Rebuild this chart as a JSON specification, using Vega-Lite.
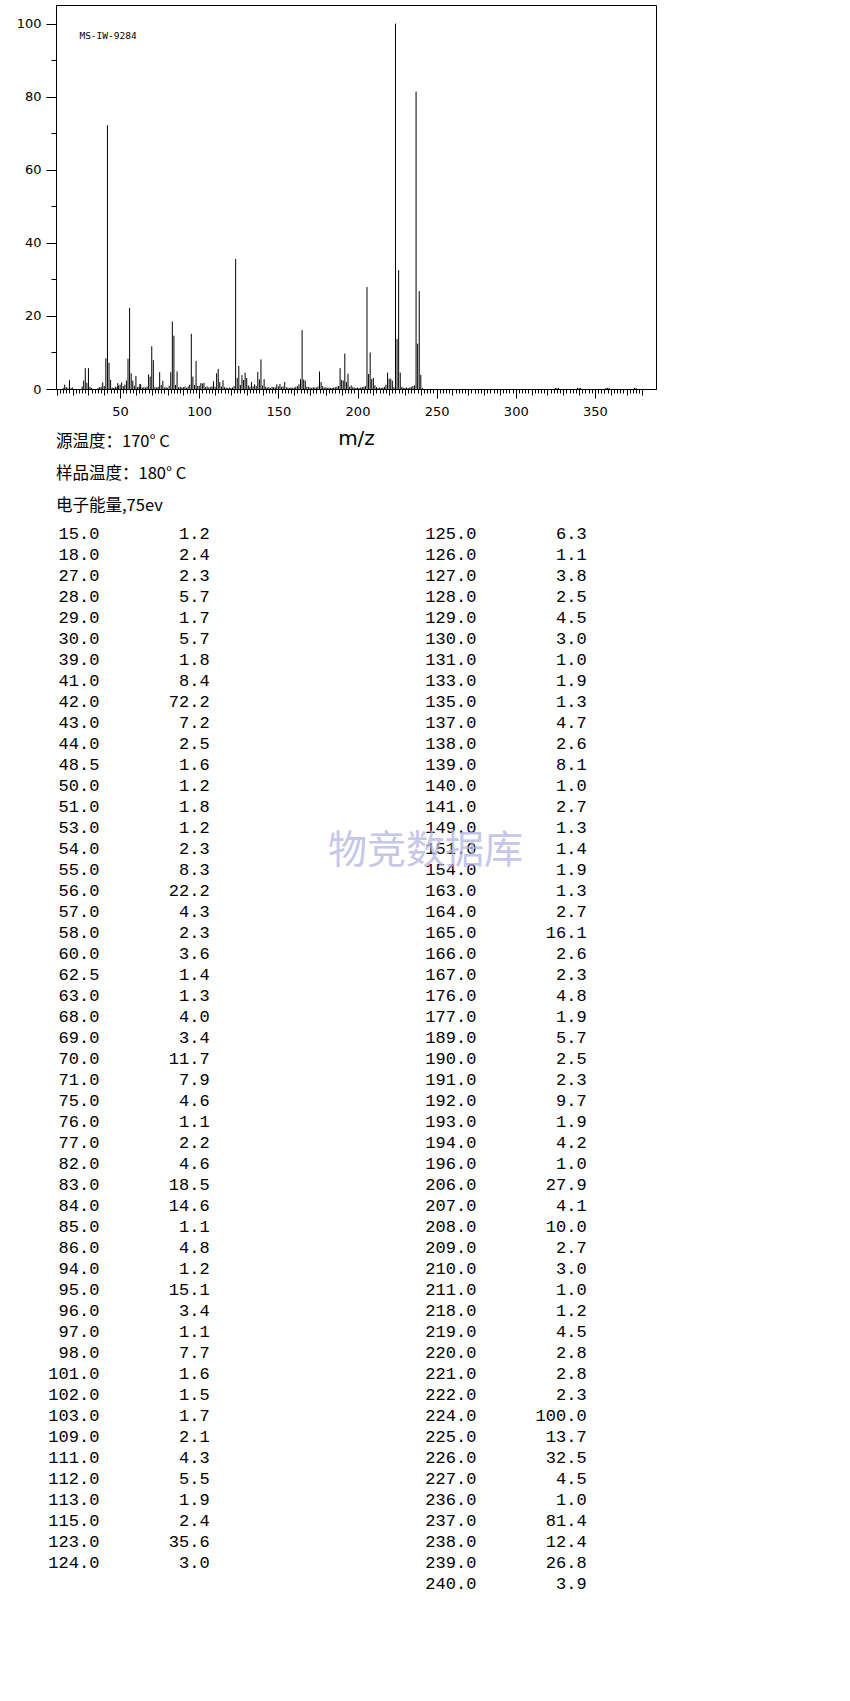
{
  "$schema": "https://vega.github.io/schema/vega-lite/v6.json",
  "background": "white",
  "padding": {"left": 15, "top": 4, "right": 5, "bottom": 5},
  "config": {"view": {"stroke": null}},
  "datasets": {
    "peaks": [
      {"mz": 14, "intensity": 0.3}, {"mz": 15, "intensity": 1.2}, {"mz": 16, "intensity": 0.5}, {"mz": 17, "intensity": 0.3},
      {"mz": 18, "intensity": 2.4}, {"mz": 19, "intensity": 0.3}, {"mz": 20, "intensity": 0.4}, {"mz": 26, "intensity": 0.7},
      {"mz": 27, "intensity": 2.3}, {"mz": 28, "intensity": 5.7}, {"mz": 29, "intensity": 1.7}, {"mz": 30, "intensity": 5.7},
      {"mz": 31, "intensity": 0.6}, {"mz": 32, "intensity": 0.3}, {"mz": 36, "intensity": 0.3}, {"mz": 37, "intensity": 0.5},
      {"mz": 38, "intensity": 0.6}, {"mz": 39, "intensity": 1.8}, {"mz": 40, "intensity": 0.8}, {"mz": 41, "intensity": 8.4},
      {"mz": 42, "intensity": 72.2}, {"mz": 43, "intensity": 7.2}, {"mz": 44, "intensity": 2.5}, {"mz": 45, "intensity": 0.4},
      {"mz": 46, "intensity": 0.3}, {"mz": 47, "intensity": 0.6}, {"mz": 48, "intensity": 0.4}, {"mz": 48.5, "intensity": 1.6},
      {"mz": 49, "intensity": 0.9}, {"mz": 50, "intensity": 1.2}, {"mz": 51, "intensity": 1.8}, {"mz": 52, "intensity": 0.8},
      {"mz": 53, "intensity": 1.2}, {"mz": 54, "intensity": 2.3}, {"mz": 55, "intensity": 8.3}, {"mz": 56, "intensity": 22.2},
      {"mz": 57, "intensity": 4.3}, {"mz": 58, "intensity": 2.3}, {"mz": 59, "intensity": 0.9}, {"mz": 60, "intensity": 3.6},
      {"mz": 61, "intensity": 0.5}, {"mz": 62, "intensity": 0.6}, {"mz": 62.5, "intensity": 1.4}, {"mz": 63, "intensity": 1.3},
      {"mz": 64, "intensity": 0.4}, {"mz": 65, "intensity": 0.5}, {"mz": 66, "intensity": 0.4}, {"mz": 67, "intensity": 0.7},
      {"mz": 68, "intensity": 4.0}, {"mz": 69, "intensity": 3.4}, {"mz": 70, "intensity": 11.7}, {"mz": 71, "intensity": 7.9},
      {"mz": 72, "intensity": 0.5}, {"mz": 73, "intensity": 0.4}, {"mz": 74, "intensity": 0.6}, {"mz": 75, "intensity": 4.6},
      {"mz": 76, "intensity": 1.1}, {"mz": 77, "intensity": 2.2}, {"mz": 78, "intensity": 0.4}, {"mz": 79, "intensity": 0.5},
      {"mz": 80, "intensity": 0.3}, {"mz": 81, "intensity": 0.9}, {"mz": 82, "intensity": 4.6}, {"mz": 83, "intensity": 18.5},
      {"mz": 84, "intensity": 14.6}, {"mz": 85, "intensity": 1.1}, {"mz": 86, "intensity": 4.8}, {"mz": 87, "intensity": 0.5},
      {"mz": 88, "intensity": 0.6}, {"mz": 89, "intensity": 0.4}, {"mz": 90, "intensity": 0.5}, {"mz": 91, "intensity": 0.7},
      {"mz": 92, "intensity": 0.3}, {"mz": 93, "intensity": 0.7}, {"mz": 94, "intensity": 1.2}, {"mz": 95, "intensity": 15.1},
      {"mz": 96, "intensity": 3.4}, {"mz": 97, "intensity": 1.1}, {"mz": 98, "intensity": 7.7}, {"mz": 99, "intensity": 0.8},
      {"mz": 100, "intensity": 0.9}, {"mz": 101, "intensity": 1.6}, {"mz": 102, "intensity": 1.5}, {"mz": 103, "intensity": 1.7},
      {"mz": 104, "intensity": 0.5}, {"mz": 105, "intensity": 0.7}, {"mz": 106, "intensity": 0.4}, {"mz": 107, "intensity": 0.5},
      {"mz": 108, "intensity": 0.7}, {"mz": 109, "intensity": 2.1}, {"mz": 110, "intensity": 0.6}, {"mz": 111, "intensity": 4.3},
      {"mz": 112, "intensity": 5.5}, {"mz": 113, "intensity": 1.9}, {"mz": 114, "intensity": 0.7}, {"mz": 115, "intensity": 2.4},
      {"mz": 116, "intensity": 0.5}, {"mz": 117, "intensity": 0.4}, {"mz": 118, "intensity": 0.3}, {"mz": 119, "intensity": 0.4},
      {"mz": 120, "intensity": 0.3}, {"mz": 121, "intensity": 0.4}, {"mz": 122, "intensity": 0.8}, {"mz": 123, "intensity": 35.6},
      {"mz": 124, "intensity": 3.0}, {"mz": 125, "intensity": 6.3}, {"mz": 126, "intensity": 1.1}, {"mz": 127, "intensity": 3.8},
      {"mz": 128, "intensity": 2.5}, {"mz": 129, "intensity": 4.5}, {"mz": 130, "intensity": 3.0}, {"mz": 131, "intensity": 1.0},
      {"mz": 132, "intensity": 0.6}, {"mz": 133, "intensity": 1.9}, {"mz": 134, "intensity": 0.7}, {"mz": 135, "intensity": 1.3},
      {"mz": 136, "intensity": 0.8}, {"mz": 137, "intensity": 4.7}, {"mz": 138, "intensity": 2.6}, {"mz": 139, "intensity": 8.1},
      {"mz": 140, "intensity": 1.0}, {"mz": 141, "intensity": 2.7}, {"mz": 142, "intensity": 0.6}, {"mz": 143, "intensity": 0.4},
      {"mz": 144, "intensity": 0.5}, {"mz": 145, "intensity": 0.3}, {"mz": 146, "intensity": 0.6}, {"mz": 147, "intensity": 0.5},
      {"mz": 148, "intensity": 0.5}, {"mz": 149, "intensity": 1.3}, {"mz": 150, "intensity": 0.7}, {"mz": 151, "intensity": 1.4},
      {"mz": 152, "intensity": 0.6}, {"mz": 153, "intensity": 0.7}, {"mz": 154, "intensity": 1.9}, {"mz": 155, "intensity": 0.4},
      {"mz": 156, "intensity": 0.4}, {"mz": 157, "intensity": 0.3}, {"mz": 158, "intensity": 0.4}, {"mz": 159, "intensity": 0.3},
      {"mz": 160, "intensity": 0.4}, {"mz": 161, "intensity": 0.6}, {"mz": 162, "intensity": 0.8}, {"mz": 163, "intensity": 1.3},
      {"mz": 164, "intensity": 2.7}, {"mz": 165, "intensity": 16.1}, {"mz": 166, "intensity": 2.6}, {"mz": 167, "intensity": 2.3},
      {"mz": 168, "intensity": 0.6}, {"mz": 169, "intensity": 0.5}, {"mz": 170, "intensity": 0.4}, {"mz": 171, "intensity": 0.3},
      {"mz": 172, "intensity": 0.5}, {"mz": 173, "intensity": 0.4}, {"mz": 174, "intensity": 0.4}, {"mz": 175, "intensity": 0.7},
      {"mz": 176, "intensity": 4.8}, {"mz": 177, "intensity": 1.9}, {"mz": 178, "intensity": 0.8}, {"mz": 179, "intensity": 0.4},
      {"mz": 180, "intensity": 0.5}, {"mz": 181, "intensity": 0.3}, {"mz": 182, "intensity": 0.4}, {"mz": 183, "intensity": 0.3},
      {"mz": 184, "intensity": 0.3}, {"mz": 185, "intensity": 0.4}, {"mz": 186, "intensity": 0.5}, {"mz": 187, "intensity": 0.6},
      {"mz": 188, "intensity": 0.8}, {"mz": 189, "intensity": 5.7}, {"mz": 190, "intensity": 2.5}, {"mz": 191, "intensity": 2.3},
      {"mz": 192, "intensity": 9.7}, {"mz": 193, "intensity": 1.9}, {"mz": 194, "intensity": 4.2}, {"mz": 195, "intensity": 0.6},
      {"mz": 196, "intensity": 1.0}, {"mz": 197, "intensity": 0.5}, {"mz": 198, "intensity": 0.4}, {"mz": 199, "intensity": 0.3},
      {"mz": 200, "intensity": 0.4}, {"mz": 201, "intensity": 0.3}, {"mz": 202, "intensity": 0.4}, {"mz": 203, "intensity": 0.5},
      {"mz": 204, "intensity": 0.6}, {"mz": 205, "intensity": 0.8}, {"mz": 206, "intensity": 27.9}, {"mz": 207, "intensity": 4.1},
      {"mz": 208, "intensity": 10.0}, {"mz": 209, "intensity": 2.7}, {"mz": 210, "intensity": 3.0}, {"mz": 211, "intensity": 1.0},
      {"mz": 212, "intensity": 0.5}, {"mz": 213, "intensity": 0.3}, {"mz": 214, "intensity": 0.4}, {"mz": 215, "intensity": 0.3},
      {"mz": 216, "intensity": 0.4}, {"mz": 217, "intensity": 0.6}, {"mz": 218, "intensity": 1.2}, {"mz": 219, "intensity": 4.5},
      {"mz": 220, "intensity": 2.8}, {"mz": 221, "intensity": 2.8}, {"mz": 222, "intensity": 2.3}, {"mz": 223, "intensity": 0.5},
      {"mz": 224, "intensity": 100.0}, {"mz": 225, "intensity": 13.7}, {"mz": 226, "intensity": 32.5}, {"mz": 227, "intensity": 4.5},
      {"mz": 228, "intensity": 0.6}, {"mz": 229, "intensity": 0.3}, {"mz": 230, "intensity": 0.3}, {"mz": 231, "intensity": 0.4},
      {"mz": 232, "intensity": 0.3}, {"mz": 233, "intensity": 0.4}, {"mz": 234, "intensity": 0.6}, {"mz": 235, "intensity": 0.8},
      {"mz": 236, "intensity": 1.0}, {"mz": 237, "intensity": 81.4}, {"mz": 238, "intensity": 12.4}, {"mz": 239, "intensity": 26.8},
      {"mz": 240, "intensity": 3.9}, {"mz": 241, "intensity": 0.3}, {"mz": 325, "intensity": 0.3}, {"mz": 326, "intensity": 0.3},
      {"mz": 327, "intensity": 0.3}, {"mz": 339, "intensity": 0.3}, {"mz": 340, "intensity": 0.3}, {"mz": 341, "intensity": 0.3},
      {"mz": 357, "intensity": 0.3}, {"mz": 358, "intensity": 0.3}, {"mz": 359, "intensity": 0.3}, {"mz": 375, "intensity": 0.3},
      {"mz": 376, "intensity": 0.3}
    ]
  },
  "bounds": "flush",
  "spacing": 134.7,
  "vconcat": [
    {
      "width": 600,
      "height": 384,
      "view": {"stroke": "black", "strokeWidth": 1},
      "resolve": {"axis": {"x": "independent", "y": "independent"}},
      "layer": [
        {
          "data": {"name": "peaks"},
          "mark": {"type": "rule", "color": "black", "strokeWidth": 1},
          "encoding": {
            "x": {
              "field": "mz", "type": "quantitative",
              "scale": {"domain": [9.5, 388.6], "nice": false, "zero": false},
              "axis": {
                "orient": "bottom",
                "values": [50, 100, 150, 200, 250, 300, 350],
                "labelOverlap": false,
                "labelFlush": false,
                "labelFont": "DejaVu Sans",
                "labelFontSize": 13,
                "labelColor": "black",
                "labelPadding": 7,
                "tickSize": 9,
                "tickColor": "black",
                "tickWidth": 1,
                "domainColor": "black",
                "grid": false,
                "title": "m/z",
                "titleFont": "DejaVu Sans",
                "titleFontSize": 20,
                "titleFontWeight": "normal",
                "titleColor": "black",
                "titlePadding": 10
              }
            },
            "y": {
              "field": "intensity", "type": "quantitative",
              "scale": {"domain": [0, 105.1], "nice": false},
              "axis": {
                "orient": "left",
                "values": [0, 20, 40, 60, 80, 100],
                "labelOverlap": false,
                "labelFlush": false,
                "labelFont": "DejaVu Sans",
                "labelFontSize": 13,
                "labelColor": "black",
                "labelPadding": 5,
                "tickSize": 10,
                "tickColor": "black",
                "domainColor": "black",
                "grid": false,
                "title": null
              }
            },
            "y2": {"datum": 0}
          }
        },
        {
          "data": {"values": [{"label": "MS-IW-9284"}]},
          "mark": {"type": "text", "align": "left", "baseline": "middle", "font": "DejaVu Sans Mono", "fontSize": 9.5, "color": "black"},
          "encoding": {
            "x": {
              "datum": 24.3, "type": "quantitative",
              "axis": {
                "orient": "bottom",
                "values": [10,12,14,16,18,20,22,24,26,28,30,32,34,36,38,40,42,44,46,48,52,54,56,58,60,62,64,66,68,70,72,74,76,78,80,82,84,86,88,90,92,94,96,98,102,104,106,108,110,112,114,116,118,120,122,124,126,128,130,132,134,136,138,140,142,144,146,148,152,154,156,158,160,162,164,166,168,170,172,174,176,178,180,182,184,186,188,190,192,194,196,198,202,204,206,208,210,212,214,216,218,220,222,224,226,228,230,232,234,236,238,240,242,244,246,248,252,254,256,258,260,262,264,266,268,270,272,274,276,278,280,282,284,286,288,290,292,294,296,298,302,304,306,308,310,312,314,316,318,320,322,324,326,328,330,332,334,336,338,340,342,344,346,348,352,354,356,358,360,362,364,366,368,370,372,374,376,378,380],
                "labels": false,
                "domain": false,
                "grid": false,
                "title": null,
                "tickColor": "black",
                "tickWidth": 1,
                "tickSize": {
                  "condition": {"test": "datum.value % 10 === 0", "value": 6},
                  "value": 4
                }
              }
            },
            "y": {
              "datum": 96.7, "type": "quantitative",
              "axis": {
                "orient": "left",
                "values": [10, 30, 50, 70, 90],
                "labels": false,
                "domain": false,
                "grid": false,
                "title": null,
                "tickColor": "black",
                "tickSize": 5
              }
            },
            "text": {"field": "label"}
          }
        }
      ]
    },
    {
      "title": {
        "text": ["源温度：170° C", "样品温度：180° C", "电子能量,75ev"],
        "anchor": "start",
        "orient": "top",
        "frame": "group",
        "font": "Noto Sans CJK SC",
        "fontSize": 16.5,
        "fontWeight": "normal",
        "color": "black",
        "lineHeight": 32,
        "offset": 9,
        "dx": 0
      },
      "bounds": "flush",
      "spacing": 180,
      "hconcat": [
        {
          "width": 197,
          "height": 1050,
          "data": {"name": "peaks"},
          "transform": [
            {"filter": "datum.intensity >= 1 && datum.mz < 125"},
            {"fold": ["mz", "intensity"]}
          ],
          "mark": {"type": "text", "align": "right", "baseline": "middle", "font": "Liberation Mono", "fontSize": 17, "color": "black"},
          "encoding": {
            "x": {"field": "key", "type": "nominal", "scale": {"domain": ["mz", "intensity"], "padding": 0.3936}, "axis": null},
            "y": {"field": "mz", "type": "ordinal", "axis": null},
            "text": {"field": "value", "type": "quantitative", "format": ".1f"}
          }
        },
        {
          "width": 197,
          "height": 1071,
          "layer": [
            {
              "data": {"name": "peaks"},
              "transform": [
                {"filter": "datum.intensity >= 1 && datum.mz >= 125"},
                {"fold": ["mz", "intensity"]}
              ],
              "mark": {"type": "text", "align": "right", "baseline": "middle", "font": "Liberation Mono", "fontSize": 17, "color": "black"},
              "encoding": {
                "x": {"field": "key", "type": "nominal", "scale": {"domain": ["mz", "intensity"], "padding": 0.3936}, "axis": null},
                "y": {"field": "mz", "type": "ordinal", "axis": null},
                "text": {"field": "value", "type": "quantitative", "format": ".1f"}
              }
            },
            {
              "data": {"values": [{"label": "物竞数据库"}]},
              "mark": {"type": "text", "align": "center", "baseline": "middle", "font": "Noto Sans CJK SC", "fontSize": 39, "color": "#b4b4e2", "opacity": 0.75, "dx": -51, "dy": 2},
              "encoding": {
                "x": {"datum": "mz", "type": "nominal"},
                "y": {"datum": 151, "type": "ordinal"},
                "text": {"field": "label"}
              }
            }
          ]
        }
      ]
    }
  ]
}
